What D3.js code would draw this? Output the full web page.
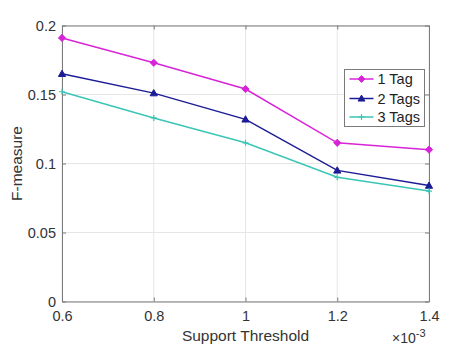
<!DOCTYPE html>
<html>
<head>
<meta charset="utf-8">
<script src="https://cdn.jsdelivr.net/npm/d3@7"></script>
<style>
  html, body { margin: 0; padding: 0; background: #fff; }
  svg { display: block; font-family: "Liberation Sans", Arial, sans-serif; }
</style>
</head>
<body>
<svg id="chart" width="474" height="347"></svg>
<script>
// Support thresholds (×10^-3) and F-measure per tag count
const thresholds = [0.6, 0.8, 1.0, 1.2, 1.4];
const oneTag   = [0.191, 0.173, 0.154, 0.115, 0.110];
const twoTags  = [0.165, 0.151, 0.132, 0.095, 0.084];
const threeTags = [0.152, 0.133, 0.115, 0.090, 0.080];
const xTicks = [0.6, 0.8, 1.0, 1.2, 1.4];
const yTicks = [0, 0.05, 0.1, 0.15, 0.2];
const seriesNames = ["1 Tag", "2 Tags", "3 Tags"];

const series = [
  { name: seriesNames[0], values: oneTag,   color: "#d824d8", marker: "diamond" },
  { name: seriesNames[1], values: twoTags,  color: "#1c1c96", marker: "triangle" },
  { name: seriesNames[2], values: threeTags, color: "#3ac6b6", marker: "plus" }
];

const svg = d3.select("#chart");
const m = { left: 62, top: 25.5, right: 429, bottom: 301.5 };

const x = d3.scaleLinear().domain([0.6, 1.4]).range([m.left, m.right]);
const y = d3.scaleLinear().domain([0, 0.2]).range([m.bottom, m.top]);

// grid
const grid = svg.append("g");
grid.selectAll(".gx").data(xTicks).join("line")
  .attr("x1", d => x(d)).attr("x2", d => x(d))
  .attr("y1", m.top).attr("y2", m.bottom)
  .attr("stroke", "#e6e6e6").attr("stroke-width", 1);
grid.selectAll(".gy").data(yTicks).join("line")
  .attr("x1", m.left).attr("x2", m.right)
  .attr("y1", d => y(d)).attr("y2", d => y(d))
  .attr("stroke", "#e6e6e6").attr("stroke-width", 1);

// axes
const fmtX = d => d3.format("~g")(d);
const fmtY = d => d3.format("~g")(d);
const xAxis = svg.append("g").attr("transform", `translate(0,${m.bottom})`)
  .call(d3.axisBottom(x).tickValues(xTicks).tickFormat(fmtX).tickSizeInner(-4).tickSizeOuter(0).tickPadding(9));
const yAxis = svg.append("g").attr("transform", `translate(${m.left},0)`)
  .call(d3.axisLeft(y).tickValues(yTicks).tickFormat(fmtY).tickSizeInner(-4).tickSizeOuter(0).tickPadding(6));
const xTop = svg.append("g").attr("transform", `translate(0,${m.top})`)
  .call(d3.axisTop(x).tickValues(xTicks).tickFormat("").tickSizeInner(-4).tickSizeOuter(0));
const yRight = svg.append("g").attr("transform", `translate(${m.right},0)`)
  .call(d3.axisRight(y).tickValues(yTicks).tickFormat("").tickSizeInner(-4).tickSizeOuter(0));

[xAxis, yAxis, xTop, yRight].forEach(g => {
  g.select(".domain").attr("stroke", "#7a7a7a").attr("stroke-width", 1);
  g.selectAll(".tick line").attr("stroke", "#7a7a7a");
  g.selectAll("text").attr("fill", "#333").style("font-size", "14.5px")
    .style("font-family", "'Liberation Sans', Arial, sans-serif");
});

// lines
const line = d3.line().x((d, i) => x(thresholds[i])).y(d => y(d));

function drawMarker(g, type, color, size) {
  if (type === "diamond") {
    g.append("path").attr("d", `M0,${-size}L${size},0L0,${size}L${-size},0Z`).attr("fill", color).attr("stroke", color);
  } else if (type === "triangle") {
    g.append("path").attr("d", `M0,${-size}L${size},${size*0.75}L${-size},${size*0.75}Z`).attr("fill", color).attr("stroke", color);
  } else {
    g.append("path").attr("d", `M${-size},0H${size}M0,${-size}V${size}`).attr("stroke", color).attr("stroke-width", 1.2).attr("fill", "none");
  }
}

series.forEach(s => {
  svg.append("path").datum(s.values)
    .attr("d", line).attr("fill", "none").attr("stroke", s.color).attr("stroke-width", 1.5);
  s.values.forEach((v, i) => {
    const g = svg.append("g").attr("transform", `translate(${x(thresholds[i])},${y(v)})`);
    drawMarker(g, s.marker, s.color, s.marker === "plus" ? 3 : 3.6);
  });
});

// axis titles
svg.append("text").attr("x", (m.left + m.right) / 2).attr("y", 341)
  .attr("text-anchor", "middle").attr("fill", "#333").style("font-size", "15.5px")
  .text("Support Threshold");
svg.append("text").attr("transform", `translate(22,${(m.top + m.bottom) / 2}) rotate(-90)`)
  .attr("text-anchor", "middle").attr("fill", "#333").style("font-size", "15.5px")
  .text("F-measure");

// exponent label
const ex = svg.append("text").attr("x", 392).attr("y", 343).attr("fill", "#333").style("font-size", "14px");
ex.append("tspan").text("×10");
ex.append("tspan").attr("dy", -6).style("font-size", "11px").text("-3");

// legend
const lg = svg.append("g");
lg.append("rect").attr("x", 344.5).attr("y", 69.5).attr("width", 80).attr("height", 57)
  .attr("fill", "#fff").attr("stroke", "#7a7a7a").attr("stroke-width", 1);
const rowsY = [79, 98.5, 117];
series.forEach((s, i) => {
  const ry = rowsY[i];
  lg.append("line").attr("x1", 349.5).attr("x2", 373.5).attr("y1", ry).attr("y2", ry)
    .attr("stroke", s.color).attr("stroke-width", 1.5);
  const g = lg.append("g").attr("transform", `translate(361.5,${ry})`);
  drawMarker(g, s.marker, s.color, s.marker === "plus" ? 3 : 3.4);
  lg.append("text").attr("x", 377.5).attr("y", ry + 5).attr("fill", "#222")
    .style("font-size", "14.5px").text(s.name);
});
</script>
</body>
</html>
